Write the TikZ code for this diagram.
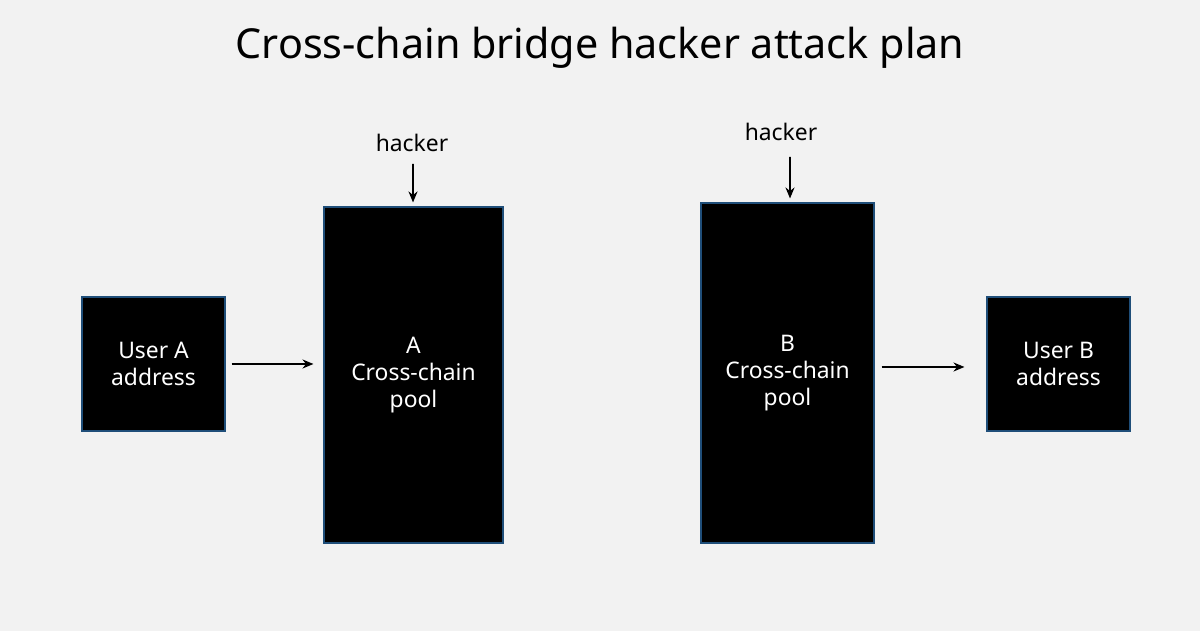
\documentclass[tikz,border=0pt]{standalone}
\usepackage{fontspec}
\setmainfont{Noto Sans}
\usetikzlibrary{positioning,arrows.meta}
\definecolor{bgcol}{HTML}{F2F2F2}
\definecolor{edgecol}{HTML}{1F4E79}
\tikzset{
	blackbox/.style={draw=edgecol,fill=black,text=white,line width=0.6pt,align=center,
		font=\fontsize{13}{15.3}\selectfont,inner sep=0pt},
	lbl/.style={font=\fontsize{13}{15}\selectfont},
	arr/.style={-{Stealth[length=2.2mm,width=1.8mm]},line width=1.1pt}
}
\begin{document}
\begin{tikzpicture}
			\fill[bgcol] (0,0) rectangle (24,12.62);
			\node (title) at (12,11.66) {\fontsize{23.5}{28}\selectfont Cross-chain bridge hacker attack plan};
			\node[blackbox,minimum width=2.86cm,minimum height=2.68cm] (userA) at (3.07,5.34) {User A\\address};
			\node[blackbox,minimum width=3.58cm,minimum height=6.72cm] (poolA) at (8.27,5.12) {A\\Cross-chain\\pool};
			\node[blackbox,minimum width=3.46cm,minimum height=6.80cm] (poolB) at (15.75,5.16) {B\\Cross-chain\\pool};
			\node[blackbox,minimum width=2.86cm,minimum height=2.68cm] (userB) at (21.17,5.34) {User B\\address};
			\node[lbl] (hackA) at (8.24,9.76) {hacker};
			\node[lbl] (hackB) at (15.62,9.98) {hacker};
			% hacker arrows
			\draw[arr,shorten <=0.12cm,shorten >=0.08cm] ([xshift=0.02cm]hackA.south) -- ([xshift=-0.01cm]poolA.north);
			\draw[arr,shorten <=0.2cm,shorten >=0.08cm] ([xshift=0.18cm]hackB.south) -- ([xshift=0.05cm]poolB.north);
			% transfers
			\draw[arr,shorten <=0.12cm,shorten >=0.2cm] (userA.east) -- (userA.east -| poolA.west);
			\draw[arr,shorten <=0.14cm,shorten >=0.44cm] ([yshift=0.12cm]poolB.east) -- ([yshift=0.12cm]poolB.east -| userB.west);
\end{tikzpicture}
\end{document}
